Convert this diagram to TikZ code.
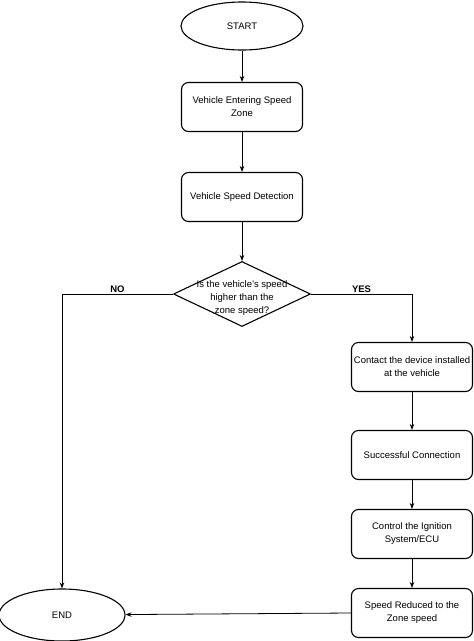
\documentclass[tikz,border=0pt]{standalone}
\usepackage{fontspec}
\setmainfont{Liberation Sans}
\usetikzlibrary{shapes.geometric, arrows.meta}

\begin{document}
\begin{tikzpicture}[x=1pt, y=-1pt,
  proc/.style={draw, line width=1.1pt, rectangle, rounded corners=7pt, minimum width=121pt, minimum height=49pt, inner sep=1pt, align=center, font=\fontsize{9.5}{13}\selectfont},
  term/.style={draw, line width=1.1pt, ellipse, minimum width=122pt, minimum height=48pt, font=\fontsize{9.5}{11}\selectfont},
  flow/.style={-{Stealth[length=6pt, width=4.5pt]}, line width=0.8pt},
  answer/.style={font=\bfseries\fontsize{9.5}{11}\selectfont, inner sep=1.5pt}]
\useasboundingbox (0,0) rectangle (474,641);

\node[term] (start) at (242,26) {START};
\node[proc] (entry) at (242,107) {Vehicle Entering Speed\\Zone};
\node[proc] (detect) at (242,197) {Vehicle Speed Detection};
\node[draw, line width=1.1pt, diamond, minimum width=137pt, minimum height=65pt, inner sep=0pt] (check) at (242,294) {};
\node[align=center, font=\fontsize{9.5}{13}\selectfont] (checktext) at (242,298) {Is the vehicle's speed\\higher than the\\zone speed?};

\node[proc] (contact) at (412,367) {Contact the device installed\\at the vehicle};
\node[proc] (success) at (412,455) {Successful Connection};
\node[proc] (ignition) at (412,534) {Control the Ignition\\System/ECU};
\node[proc] (reduce) at (412,613) {Speed Reduced to the\\Zone speed};
\node[term, minimum width=126pt, minimum height=52pt] (end) at (62,615) {END};

\draw[flow] (start) -- (entry);
\draw[flow] (entry) -- (detect);
\draw[flow] (detect) -- (check);
\draw[flow] (check.west) -- node[answer, above] {NO} (end.north |- check.west) -- (end.north);
\draw[flow] (check.east) -- node[answer, above] {YES} (contact.north |- check.east) -- (contact.north);
\draw[flow] (contact) -- (success);
\draw[flow] (success) -- (ignition);
\draw[flow] (ignition) -- (reduce);
\draw[flow] (reduce.west) -- (end);
\end{tikzpicture}
\end{document}
